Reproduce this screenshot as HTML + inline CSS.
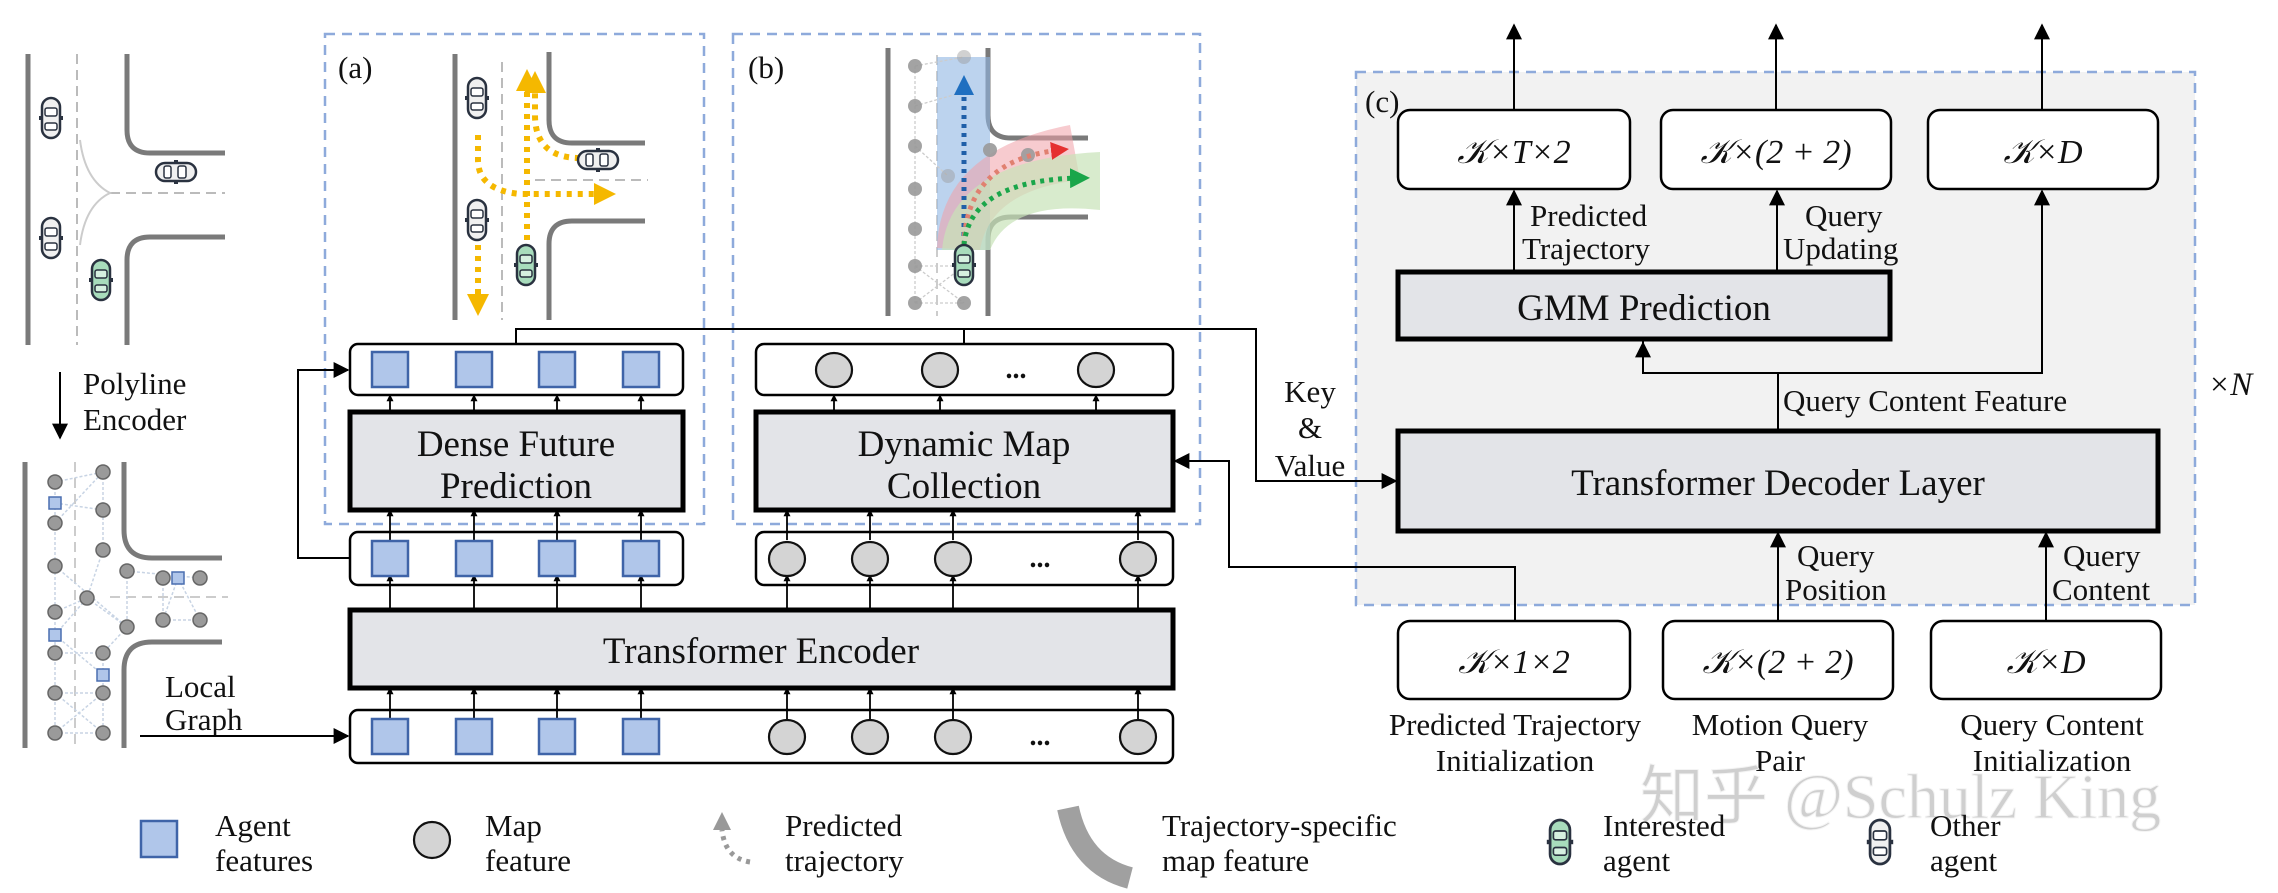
<!DOCTYPE html>
<html><head><meta charset="utf-8"><style>
html,body{margin:0;padding:0;background:#fff;}
svg{display:block;}
text{font-family:"Liberation Serif",serif;fill:#111;}
</style></head><body>
<svg width="2278" height="893" viewBox="0 0 2278 893" xmlns="http://www.w3.org/2000/svg">
<defs>
<marker id="ar" viewBox="0 0 10 10" refX="9" refY="5" markerWidth="7" markerHeight="7" markerUnits="userSpaceOnUse" orient="auto"><path d="M0,0L10,5L0,10z" fill="#000"/></marker>
<marker id="arL" viewBox="0 0 10 10" refX="9" refY="5" markerWidth="16" markerHeight="16" markerUnits="userSpaceOnUse" orient="auto"><path d="M0,0L10,5L0,10z" fill="#000"/></marker>
<marker id="ay" viewBox="0 0 10 10" refX="5" refY="5" markerWidth="22" markerHeight="22" markerUnits="userSpaceOnUse" orient="auto"><path d="M0,0L10,5L0,10z" fill="#f5b800"/></marker>
<marker id="ab" viewBox="0 0 10 10" refX="5" refY="5" markerWidth="20" markerHeight="20" markerUnits="userSpaceOnUse" orient="auto"><path d="M0,0L10,5L0,10z" fill="#1f6fc0"/></marker>
<marker id="ag" viewBox="0 0 10 10" refX="5" refY="5" markerWidth="20" markerHeight="20" markerUnits="userSpaceOnUse" orient="auto"><path d="M0,0L10,5L0,10z" fill="#1aa64a"/></marker>
<marker id="arr" viewBox="0 0 10 10" refX="5" refY="5" markerWidth="18" markerHeight="18" markerUnits="userSpaceOnUse" orient="auto"><path d="M0,0L10,5L0,10z" fill="#e53030"/></marker>
<g id="carv"><rect x="-9" y="-20" width="18" height="40" rx="9" fill="#f0f0f0" stroke="#2a3240" stroke-width="2.5"/><rect x="-6" y="-10" width="12" height="8" rx="2" fill="#fff" stroke="#2a3240" stroke-width="1.5"/><rect x="-6" y="5" width="12" height="7" rx="2" fill="#fff" stroke="#2a3240" stroke-width="1.5"/><rect x="-12" y="-2" width="3" height="4" fill="#2a3240"/><rect x="9" y="-2" width="3" height="4" fill="#2a3240"/></g>
<g id="carg"><rect x="-9" y="-20" width="18" height="40" rx="9" fill="#a8dcbc" stroke="#2a3240" stroke-width="2.5"/><rect x="-6" y="-10" width="12" height="8" rx="2" fill="#d6f0e0" stroke="#2a3240" stroke-width="1.5"/><rect x="-6" y="5" width="12" height="7" rx="2" fill="#d6f0e0" stroke="#2a3240" stroke-width="1.5"/><rect x="-12" y="-2" width="3" height="4" fill="#2a3240"/><rect x="9" y="-2" width="3" height="4" fill="#2a3240"/></g>
</defs>

<!-- Left top road -->
<g stroke="#7a7a7a" stroke-width="5" fill="none">
<line x1="28" y1="54" x2="28" y2="345"/>
<path d="M127,54 V130 Q127,153 150,153 H225"/>
<path d="M225,237 H150 Q127,237 127,260 V345"/>
</g>
<line x1="77" y1="54" x2="77" y2="345" stroke="#bbb" stroke-width="2" stroke-dasharray="10,6"/>
<line x1="110" y1="193" x2="225" y2="193" stroke="#bbb" stroke-width="2" stroke-dasharray="10,6"/>
<path d="M80,140 Q85,180 110,193 Q85,205 80,245" stroke="#ccc" stroke-width="2" fill="none"/>
<use href="#carv" x="51" y="118"/>
<use href="#carv" x="51" y="238"/>
<use href="#carv" transform="translate(176,172) rotate(90)"/>
<use href="#carg" x="101" y="280"/>

<!-- Polyline encoder -->
<line x1="60" y1="372" x2="60" y2="438" stroke="#000" stroke-width="2" marker-end="url(#arL)"/>
<text x="83" y="394" font-size="31">Polyline</text>
<text x="83" y="430" font-size="31">Encoder</text>

<!-- Left bottom graph -->
<g stroke="#7a7a7a" stroke-width="5" fill="none">
<line x1="25" y1="462" x2="25" y2="748"/>
<path d="M124,462 V530 Q124,558 152,558 H222"/>
<path d="M222,642 H152 Q124,642 124,670 V748"/>
</g>
<line x1="75" y1="462" x2="75" y2="748" stroke="#ccc" stroke-width="2" stroke-dasharray="10,6"/>
<line x1="110" y1="597" x2="228" y2="597" stroke="#ccc" stroke-width="2" stroke-dasharray="10,6"/>
<g stroke="#c8d4e4" stroke-width="1.5" stroke-dasharray="3,2">
<line x1="55" y1="482" x2="103" y2="472"/><line x1="55" y1="503" x2="103" y2="510"/><line x1="55" y1="523" x2="103" y2="472"/>
<line x1="55" y1="482" x2="55" y2="733"/><line x1="103" y1="472" x2="103" y2="550"/><line x1="55" y1="566" x2="127" y2="627"/>
<line x1="103" y1="550" x2="87" y2="598"/><line x1="55" y1="612" x2="87" y2="598"/><line x1="87" y1="598" x2="127" y2="627"/>
<line x1="127" y1="571" x2="127" y2="627"/><line x1="127" y1="571" x2="200" y2="578"/><line x1="163" y1="620" x2="200" y2="620"/>
<line x1="178" y1="578" x2="163" y2="620"/><line x1="178" y1="578" x2="200" y2="620"/><line x1="163" y1="578" x2="163" y2="620"/>
<line x1="55" y1="635" x2="103" y2="675"/><line x1="55" y1="653" x2="103" y2="653"/><line x1="55" y1="693" x2="103" y2="693"/>
<line x1="55" y1="693" x2="103" y2="733"/><line x1="55" y1="733" x2="103" y2="693"/><line x1="55" y1="733" x2="103" y2="733"/>
<line x1="103" y1="653" x2="103" y2="733"/><line x1="127" y1="627" x2="103" y2="653"/><line x1="55" y1="635" x2="87" y2="598"/>
</g>
<g fill="#9a9a9a" stroke="#666" stroke-width="1.5">
<circle cx="55" cy="482" r="7"/><circle cx="55" cy="523" r="7"/><circle cx="55" cy="566" r="7"/><circle cx="55" cy="612" r="7"/><circle cx="55" cy="653" r="7"/><circle cx="55" cy="693" r="7"/><circle cx="55" cy="733" r="7"/>
<circle cx="103" cy="472" r="7"/><circle cx="103" cy="510" r="7"/><circle cx="103" cy="550" r="7"/><circle cx="103" cy="653" r="7"/><circle cx="103" cy="693" r="7"/><circle cx="103" cy="733" r="7"/>
<circle cx="87" cy="598" r="7"/><circle cx="127" cy="571" r="7"/><circle cx="127" cy="627" r="7"/>
<circle cx="163" cy="578" r="7"/><circle cx="200" cy="578" r="7"/><circle cx="163" cy="620" r="7"/><circle cx="200" cy="620" r="7"/>
</g>
<g fill="#b0c6ea" stroke="#4a6eb0" stroke-width="1.5">
<rect x="49" y="497" width="12" height="12"/><rect x="49" y="629" width="12" height="12"/><rect x="97" y="669" width="12" height="12"/><rect x="172" y="572" width="12" height="12"/>
</g>
<text x="165" y="697" font-size="31">Local</text>
<text x="165" y="730" font-size="31">Graph</text>
<line x1="140" y1="736" x2="348" y2="736" stroke="#000" stroke-width="2" marker-end="url(#arL)"/>

<!-- Dashed boxes a, b -->
<rect x="325" y="34" width="379" height="490" fill="none" stroke="#8eaadb" stroke-width="2.5" stroke-dasharray="10,7"/>
<rect x="733" y="34" width="467" height="490" fill="none" stroke="#8eaadb" stroke-width="2.5" stroke-dasharray="10,7"/>
<text x="338" y="78" font-size="31">(a)</text>
<text x="748" y="78" font-size="31">(b)</text>

<!-- (a) illustration -->
<g stroke="#7a7a7a" stroke-width="5" fill="none">
<line x1="455" y1="54" x2="455" y2="320"/>
<path d="M549,52 V120 Q549,143 572,143 H645"/>
<path d="M645,221 H572 Q549,221 549,244 V320"/>
</g>
<line x1="502" y1="62" x2="502" y2="320" stroke="#bbb" stroke-width="2" stroke-dasharray="10,6"/>
<line x1="535" y1="180" x2="648" y2="180" stroke="#bbb" stroke-width="2" stroke-dasharray="10,6"/>
<g stroke="#f5b800" stroke-width="6" stroke-dasharray="5,6" fill="none">
<path d="M478,135 V160 Q478,190 520,194 H605" marker-end="url(#ay)"/>
<path d="M478,245 V305" marker-end="url(#ay)"/>
<path d="M527,240 V80" marker-end="url(#ay)"/>
<path d="M580,158 Q535,158 535,115 V82" marker-end="url(#ay)"/>
</g>
<use href="#carv" x="477" y="98"/>
<use href="#carv" x="477" y="220"/>
<use href="#carv" transform="translate(598,160) rotate(90)"/>
<use href="#carg" x="526" y="265"/>

<!-- (b) illustration -->
<g stroke="#7a7a7a" stroke-width="5" fill="none">
<line x1="888" y1="48" x2="888" y2="316"/>
<path d="M988,48 V115 Q988,138 1011,138 H1088"/>
<path d="M1088,217 H1011 Q988,217 988,240 V316"/>
</g>
<line x1="937" y1="55" x2="937" y2="316" stroke="#ccc" stroke-width="2" stroke-dasharray="10,6"/>
<rect x="937" y="57" width="53" height="193" fill="#8fb6e2" opacity="0.6"/>
<path d="M937,248 Q940,150 1070,125 L1080,180 Q990,190 980,250 Z" fill="#f0a0a8" opacity="0.55"/>
<path d="M942,250 Q950,160 1100,152 L1100,210 Q1010,200 990,250 Z" fill="#c8e2b8" opacity="0.7"/>
<g stroke="#ccc" stroke-width="1.3" stroke-dasharray="3,2">
<line x1="915" y1="66" x2="915" y2="303"/><line x1="915" y1="66" x2="964" y2="57"/><line x1="915" y1="106" x2="964" y2="92"/><line x1="915" y1="146" x2="948" y2="176"/><line x1="915" y1="266" x2="964" y2="303"/><line x1="915" y1="303" x2="964" y2="266"/><line x1="915" y1="266" x2="964" y2="266"/><line x1="915" y1="303" x2="964" y2="303"/>
</g>
<g fill="#9a9a9a" opacity="0.9">
<circle cx="915" cy="66" r="7"/><circle cx="915" cy="106" r="7"/><circle cx="915" cy="146" r="7"/><circle cx="915" cy="189" r="7"/><circle cx="915" cy="229" r="7"/><circle cx="915" cy="266" r="7"/><circle cx="915" cy="303" r="7"/>
<circle cx="964" cy="57" r="7" opacity="0.5"/><circle cx="964" cy="303" r="7"/><circle cx="990" cy="150" r="7"/><circle cx="1028" cy="155" r="7"/><circle cx="948" cy="176" r="7" opacity="0.5"/>
</g>
<g fill="none" stroke-width="5" stroke-dasharray="4,5">
<path d="M964,245 V85" stroke="#1f5fa8" marker-end="url(#ab)"/>
<path d="M964,245 Q966,160 1060,150" stroke="#e08070" marker-end="url(#arr)"/>
<path d="M964,245 Q970,180 1080,178" stroke="#1aa64a" marker-end="url(#ag)"/>
</g>
<use href="#carg" x="964" y="265"/>

<!-- Rows -->
<g stroke="#000" stroke-width="2.5" fill="#fff">
<rect x="350" y="344" width="333" height="51" rx="8"/>
<rect x="756" y="344" width="417" height="51" rx="8"/>
<rect x="350" y="532" width="333" height="53" rx="8"/>
<rect x="756" y="532" width="417" height="53" rx="8"/>
<rect x="350" y="710" width="823" height="53" rx="8"/>
</g>
<g stroke="#000" stroke-width="5" fill="#e3e4e8">
<rect x="350" y="412" width="333" height="98"/>
<rect x="756" y="412" width="417" height="98"/>
<rect x="350" y="610" width="823" height="78"/>
</g>
<text x="516" y="456" font-size="37" text-anchor="middle">Dense Future</text>
<text x="516" y="498" font-size="37" text-anchor="middle">Prediction</text>
<text x="964" y="456" font-size="37" text-anchor="middle">Dynamic Map</text>
<text x="964" y="498" font-size="37" text-anchor="middle">Collection</text>
<text x="761" y="663" font-size="37" text-anchor="middle">Transformer Encoder</text>

<g stroke="#000" stroke-width="1.8" marker-end="url(#ar)">
<line x1="390" y1="412" x2="390" y2="395"/><line x1="474" y1="412" x2="474" y2="395"/><line x1="557" y1="412" x2="557" y2="395"/><line x1="641" y1="412" x2="641" y2="395"/>
<line x1="834" y1="412" x2="834" y2="395"/><line x1="940" y1="412" x2="940" y2="395"/><line x1="1096" y1="412" x2="1096" y2="395"/>
<line x1="390" y1="540" x2="390" y2="510"/><line x1="474" y1="540" x2="474" y2="510"/><line x1="557" y1="540" x2="557" y2="510"/><line x1="641" y1="540" x2="641" y2="510"/>
<line x1="787" y1="540" x2="787" y2="510"/><line x1="870" y1="540" x2="870" y2="510"/><line x1="953" y1="540" x2="953" y2="510"/><line x1="1138" y1="540" x2="1138" y2="510"/>
<line x1="390" y1="610" x2="390" y2="575"/><line x1="474" y1="610" x2="474" y2="575"/><line x1="557" y1="610" x2="557" y2="575"/><line x1="641" y1="610" x2="641" y2="575"/>
<line x1="787" y1="610" x2="787" y2="575"/><line x1="870" y1="610" x2="870" y2="575"/><line x1="953" y1="610" x2="953" y2="575"/><line x1="1138" y1="610" x2="1138" y2="575"/>
<line x1="390" y1="720" x2="390" y2="688"/><line x1="474" y1="720" x2="474" y2="688"/><line x1="557" y1="720" x2="557" y2="688"/><line x1="641" y1="720" x2="641" y2="688"/>
<line x1="787" y1="720" x2="787" y2="688"/><line x1="870" y1="720" x2="870" y2="688"/><line x1="953" y1="720" x2="953" y2="688"/><line x1="1138" y1="720" x2="1138" y2="688"/>
</g>

<g fill="#b0c6ea" stroke="#3f64a8" stroke-width="2.5">
<rect x="372" y="352" width="36" height="35"/><rect x="456" y="352" width="36" height="35"/><rect x="539" y="352" width="36" height="35"/><rect x="623" y="352" width="36" height="35"/>
<rect x="372" y="541" width="36" height="35"/><rect x="456" y="541" width="36" height="35"/><rect x="539" y="541" width="36" height="35"/><rect x="623" y="541" width="36" height="35"/>
<rect x="372" y="719" width="36" height="35"/><rect x="456" y="719" width="36" height="35"/><rect x="539" y="719" width="36" height="35"/><rect x="623" y="719" width="36" height="35"/>
</g>
<g fill="#d4d4d4" stroke="#111" stroke-width="2.2">
<ellipse cx="834" cy="370" rx="18" ry="17"/><ellipse cx="940" cy="370" rx="18" ry="17"/><ellipse cx="1096" cy="370" rx="18" ry="17"/>
<ellipse cx="787" cy="559" rx="18" ry="17"/><ellipse cx="870" cy="559" rx="18" ry="17"/><ellipse cx="953" cy="559" rx="18" ry="17"/><ellipse cx="1138" cy="559" rx="18" ry="17"/>
<ellipse cx="787" cy="737" rx="18" ry="17"/><ellipse cx="870" cy="737" rx="18" ry="17"/><ellipse cx="953" cy="737" rx="18" ry="17"/><ellipse cx="1138" cy="737" rx="18" ry="17"/>
</g>
<text x="1016" y="378" font-size="28" font-weight="bold" text-anchor="middle">...</text>
<text x="1040" y="567" font-size="28" font-weight="bold" text-anchor="middle">...</text>
<text x="1040" y="745" font-size="28" font-weight="bold" text-anchor="middle">...</text>

<polyline points="350,558 298,558 298,370 348,370" fill="none" stroke="#000" stroke-width="2" marker-end="url(#arL)"/>

<!-- (c) dashed box -->
<rect x="1356" y="72" width="839" height="533" fill="#f2f2f2" stroke="#8eaadb" stroke-width="2.5" stroke-dasharray="10,7"/>
<text x="1365" y="112" font-size="31">(c)</text>
<text x="2208" y="395" font-size="33" font-style="italic">×N</text>

<polyline points="516,344 516,329 1256,329 1256,481 1396,481" fill="none" stroke="#000" stroke-width="2" marker-end="url(#arL)"/>
<line x1="964" y1="329" x2="964" y2="344" stroke="#000" stroke-width="2"/>
<text x="1310" y="402" font-size="31" text-anchor="middle">Key</text>
<text x="1310" y="438" font-size="31" text-anchor="middle">&amp;</text>
<text x="1310" y="476" font-size="31" text-anchor="middle">Value</text>

<polyline points="1515,621 1515,567 1229,567 1229,461 1175,461" fill="none" stroke="#000" stroke-width="2" marker-end="url(#arL)"/>

<g stroke="#000" stroke-width="2.5" fill="#fff">
<rect x="1398" y="110" width="232" height="79" rx="12"/>
<rect x="1661" y="110" width="230" height="79" rx="12"/>
<rect x="1928" y="110" width="230" height="79" rx="12"/>
<rect x="1398" y="621" width="232" height="78" rx="12"/>
<rect x="1663" y="621" width="230" height="78" rx="12"/>
<rect x="1931" y="621" width="230" height="78" rx="12"/>
</g>
<g stroke="#000" stroke-width="5" fill="#e3e4e8">
<rect x="1398" y="272" width="492" height="67"/>
<rect x="1398" y="431" width="760" height="100"/>
</g>
<text x="1644" y="320" font-size="37" text-anchor="middle">GMM Prediction</text>
<text x="1778" y="495" font-size="37" text-anchor="middle">Transformer Decoder Layer</text>
<g font-size="34" text-anchor="middle" font-style="italic">
<text x="1514" y="163">𝒦×T×2</text>
<text x="1776" y="163">𝒦×(2 + 2)</text>
<text x="2043" y="163">𝒦×D</text>
<text x="1514" y="673">𝒦×1×2</text>
<text x="1778" y="673">𝒦×(2 + 2)</text>
<text x="2046" y="673">𝒦×D</text>
</g>

<g stroke="#000" stroke-width="2" fill="none">
<line x1="1514" y1="110" x2="1514" y2="25" marker-end="url(#arL)"/>
<line x1="1776" y1="110" x2="1776" y2="25" marker-end="url(#arL)"/>
<line x1="2042" y1="110" x2="2042" y2="25" marker-end="url(#arL)"/>
<line x1="1514" y1="272" x2="1514" y2="191" marker-end="url(#arL)"/>
<line x1="1777" y1="272" x2="1777" y2="191" marker-end="url(#arL)"/>
<line x1="1778" y1="431" x2="1778" y2="373"/>
<polyline points="1643,341 1643,373 2042,373 2042,191" marker-end="url(#arL)"/>
<line x1="1643" y1="373" x2="1643" y2="343" marker-end="url(#arL)"/>
<line x1="1778" y1="621" x2="1778" y2="533" marker-end="url(#arL)"/>
<line x1="2046" y1="621" x2="2046" y2="533" marker-end="url(#arL)"/>
</g>
<g font-size="31">
<text x="1530" y="226">Predicted</text>
<text x="1522" y="259">Trajectory</text>
<text x="1805" y="226">Query</text>
<text x="1783" y="259">Updating</text>
<text x="1783" y="411">Query Content Feature</text>
<text x="1797" y="566">Query</text>
<text x="1785" y="600">Position</text>
<text x="2063" y="566">Query</text>
<text x="2052" y="600">Content</text>
</g>
<g font-size="31" text-anchor="middle">
<text x="1515" y="735">Predicted Trajectory</text>
<text x="1515" y="771">Initialization</text>
<text x="1780" y="735">Motion Query</text>
<text x="1780" y="771">Pair</text>
<text x="2052" y="735">Query Content</text>
<text x="2052" y="771">Initialization</text>
</g>

<!-- watermark -->
<text x="1640" y="818" font-size="64" font-family="'Liberation Sans','Noto Sans CJK SC',sans-serif" style="fill:#cfcfcf" stroke="#f4f4f4" stroke-width="1">知乎 @Schulz King</text>

<!-- legend -->
<rect x="141" y="821" width="36" height="36" fill="#b0c6ea" stroke="#3f64a8" stroke-width="2.5"/>
<text x="215" y="836" font-size="31">Agent</text>
<text x="215" y="871" font-size="31">features</text>
<ellipse cx="432" cy="840" rx="18" ry="18" fill="#d4d4d4" stroke="#111" stroke-width="2.2"/>
<text x="485" y="836" font-size="31">Map</text>
<text x="485" y="871" font-size="31">feature</text>
<path d="M750,862 Q725,858 722,830" stroke="#999" stroke-width="5" stroke-dasharray="4,5" fill="none"/>
<path d="M713,830 L722,812 L731,830 Z" fill="#999"/>
<text x="785" y="836" font-size="31">Predicted</text>
<text x="785" y="871" font-size="31">trajectory</text>
<path d="M1068,808 Q1080,865 1130,878" stroke="#a0a0a0" stroke-width="22" fill="none"/>
<text x="1162" y="836" font-size="31">Trajectory-specific</text>
<text x="1162" y="871" font-size="31">map feature</text>
<use href="#carg" transform="translate(1560,842) scale(1.1)"/>
<text x="1603" y="836" font-size="31">Interested</text>
<text x="1603" y="871" font-size="31">agent</text>
<use href="#carv" transform="translate(1880,842) scale(1.1)"/>
<text x="1930" y="836" font-size="31">Other</text>
<text x="1930" y="871" font-size="31">agent</text>
</svg>
</body></html>
